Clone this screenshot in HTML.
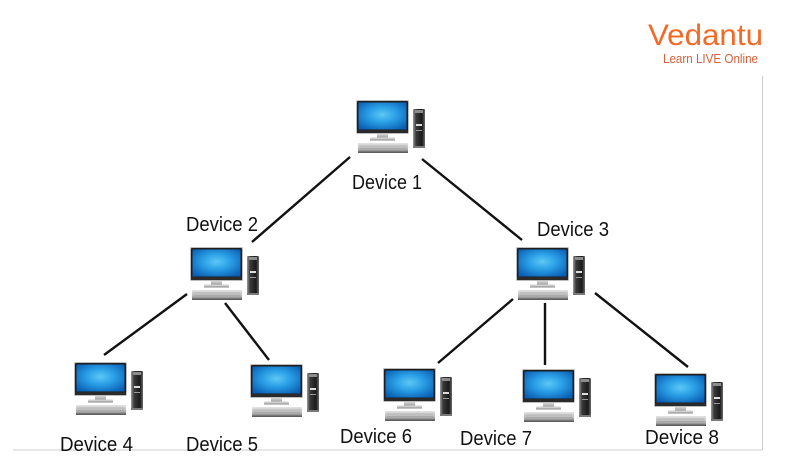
<!DOCTYPE html>
<html>
<head>
<meta charset="utf-8">
<style>
  html, body { margin: 0; padding: 0; background: #ffffff; }
  body { width: 789px; height: 469px; overflow: hidden; }
  svg { display: block; }
  text { font-family: "Liberation Sans", "DejaVu Sans", sans-serif; }
</style>
</head>
<body>
<svg width="789" height="469" viewBox="0 0 789 469" xmlns="http://www.w3.org/2000/svg">
  <defs>
    <radialGradient id="scr" cx="0.5" cy="0.45" r="0.65">
      <stop offset="0" stop-color="#5cc8f5"/>
      <stop offset="0.45" stop-color="#2a9fe6"/>
      <stop offset="1" stop-color="#0a5fb4"/>
    </radialGradient>
    <linearGradient id="kb" x1="0" y1="0" x2="0" y2="1">
      <stop offset="0" stop-color="#e4e4e4"/>
      <stop offset="0.6" stop-color="#b4b4b4"/>
      <stop offset="1" stop-color="#6e6e6e"/>
    </linearGradient>
    <linearGradient id="tw" x1="0" y1="0" x2="1" y2="0">
      <stop offset="0" stop-color="#9a9a9a"/>
      <stop offset="0.25" stop-color="#3a3a3a"/>
      <stop offset="0.75" stop-color="#1a1a1a"/>
      <stop offset="1" stop-color="#6a6a6a"/>
    </linearGradient>
    <linearGradient id="st" x1="0" y1="0" x2="0" y2="1">
      <stop offset="0" stop-color="#d8d8d8"/>
      <stop offset="1" stop-color="#9a9a9a"/>
    </linearGradient>
    <g id="pc">
      <!-- monitor -->
      <rect x="0" y="0" width="53" height="34" rx="1.5" fill="#bdbdbd"/>
      <rect x="1" y="1" width="51" height="32" rx="1" fill="#1e1e1e"/>
      <rect x="2.5" y="2.5" width="48" height="27" fill="url(#scr)"/>
      <rect x="1" y="30" width="51" height="3" fill="#2a2a2a"/>
      <!-- stand -->
      <rect x="21" y="34" width="11" height="4" fill="url(#st)"/>
      <rect x="14" y="37.5" width="25" height="2.5" rx="1" fill="#cfcfcf"/>
      <rect x="14" y="39.5" width="25" height="1" fill="#8a8a8a"/>
      <!-- keyboard -->
      <rect x="2" y="43" width="50" height="10" rx="1" fill="url(#kb)"/>
      <line x1="4" y1="46" x2="50" y2="46" stroke="#a0a0a0" stroke-width="0.6"/>
      <line x1="4" y1="48.5" x2="50" y2="48.5" stroke="#9a9a9a" stroke-width="0.6"/>
      <rect x="2" y="51.5" width="50" height="1.5" fill="#5e5e5e"/>
      <!-- tower -->
      <rect x="57" y="9" width="12" height="39" rx="1" fill="url(#tw)"/>
      <rect x="59" y="10" width="8" height="3" fill="#8c8c8c"/>
      <rect x="60" y="24" width="6" height="2" fill="#dcdcdc"/>
      <rect x="60" y="30" width="6" height="1" fill="#9a9a9a"/>
      <rect x="57" y="46" width="12" height="2" fill="#7a7a7a"/>
    </g>
  </defs>

  <!-- frame lines -->
  <line x1="13" y1="450" x2="762.5" y2="450" stroke="#cccccc" stroke-width="1"/>
  <line x1="762.5" y1="76" x2="762.5" y2="450" stroke="#cccccc" stroke-width="1"/>

  <!-- logo -->
  <text x="648" y="45" font-size="30" fill="#f26a28" textLength="115" lengthAdjust="spacingAndGlyphs">Vedantu</text>
  <text x="663" y="63" font-size="13" fill="#d4613a" textLength="95" lengthAdjust="spacingAndGlyphs">Learn LIVE Online</text>

  <!-- connectors -->
  <g stroke="#111" stroke-width="2.4" stroke-linecap="butt">
    <line x1="350" y1="157" x2="252" y2="242"/>
    <line x1="422" y1="159" x2="522" y2="240"/>
    <line x1="187" y1="294" x2="104" y2="355"/>
    <line x1="225" y1="303" x2="269" y2="360"/>
    <line x1="513" y1="299" x2="438" y2="363"/>
    <line x1="545" y1="303" x2="545" y2="365"/>
    <line x1="595" y1="293" x2="688" y2="367"/>
  </g>

  <!-- computers -->
  <use href="#pc" x="356" y="100"/>
  <use href="#pc" x="190" y="247"/>
  <use href="#pc" x="516" y="247"/>
  <use href="#pc" x="74" y="362"/>
  <use href="#pc" x="250" y="364"/>
  <use href="#pc" x="383" y="368"/>
  <use href="#pc" x="522" y="369"/>
  <use href="#pc" x="654" y="373"/>

  <!-- labels -->
  <g font-size="20" fill="#111">
    <text x="352" y="189" textLength="70" lengthAdjust="spacingAndGlyphs">Device 1</text>
    <text x="186" y="231" textLength="72" lengthAdjust="spacingAndGlyphs">Device 2</text>
    <text x="537" y="236" textLength="72" lengthAdjust="spacingAndGlyphs">Device 3</text>
    <text x="60" y="451" textLength="73" lengthAdjust="spacingAndGlyphs">Device 4</text>
    <text x="186" y="451" textLength="72" lengthAdjust="spacingAndGlyphs">Device 5</text>
    <text x="340" y="443" textLength="72" lengthAdjust="spacingAndGlyphs">Device 6</text>
    <text x="460" y="445" textLength="72" lengthAdjust="spacingAndGlyphs">Device 7</text>
    <text x="645" y="444" textLength="74" lengthAdjust="spacingAndGlyphs">Device 8</text>
  </g>
</svg>
</body>
</html>
